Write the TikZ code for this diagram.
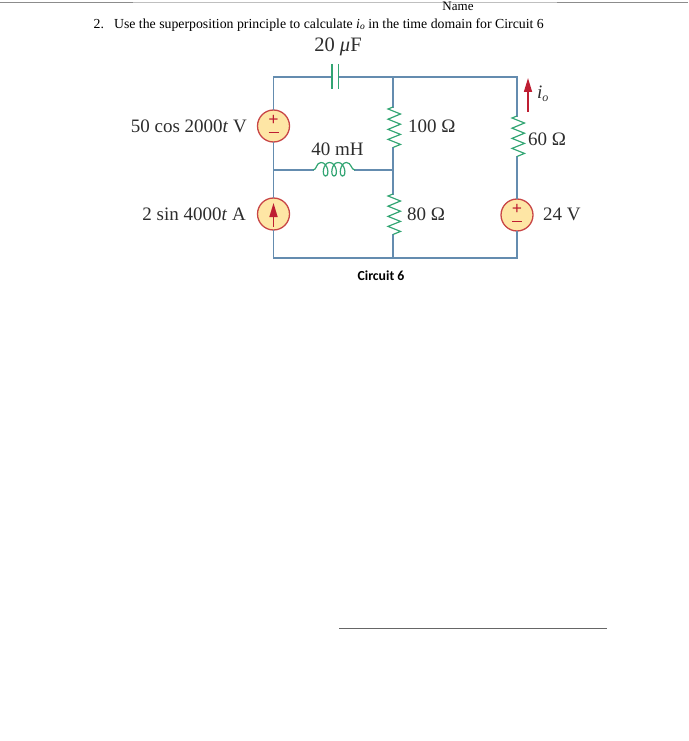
\documentclass[tikz,border=0pt]{standalone}
\usepackage{fontspec}
\setmainfont{Liberation Serif}
\newfontfamily\labelsans{Carlito}
\usetikzlibrary{arrows.meta}
\definecolor{wirecol}{RGB}{100,140,175}
\definecolor{elemcol}{RGB}{50,165,115}
\definecolor{srcfill}{RGB}{254,230,165}
\definecolor{srcline}{RGB}{200,70,70}
\definecolor{arrowred}{RGB}{190,30,50}
\definecolor{inkcol}{RGB}{45,45,45}
\tikzset{
 wire/.style={draw=wirecol,line width=1.5pt,line cap=rect},
 resistor/.style={draw=elemcol,line width=1.2pt,line join=miter},
 inductor/.style={draw=elemcol,line width=1.2pt},
 capplate/.style={draw=elemcol,line width=1.3pt},
 source/.style={circle,draw=srcline,fill=srcfill,line width=1.3pt,minimum size=32,inner sep=0},
 sign/.style={inner sep=0,text=arrowred,font=\bfseries\fontsize{18}{18}\selectfont},
 redarrow/.style={draw=arrowred,line width=1.6pt,-{Triangle[length=14pt,width=8pt]}},
 val/.style={inner sep=0,text=inkcol,font=\fontsize{19}{21}\selectfont},
 txt/.style={inner sep=0,text=black,font=\fontsize{13.8}{15}\selectfont},
}
\newcommand{\zigzagres}[2]{\draw[resistor] (#1) -- ++(-5,2) -- ++(12.5,5) -- ++(-12.5,5.2) -- ++(12.5,5) -- ++(-12.5,5.2) -- ++(12.5,5) -- ++(-12.5,5) -- ++(12.5,5) -- (#2);}
\begin{document}
\begin{tikzpicture}[x=1pt,y=-1pt]
\useasboundingbox (0,0) rectangle (688,741);
% top strip of the page
\coordinate (barA) at (0,2.5); \coordinate (barB) at (133,2.5);
\coordinate (barC) at (557,2.5); \coordinate (barD) at (688,2.5);
\draw[draw=black!25,line width=0.8pt] (barB) -- (barC);
\draw[draw=black!45,line width=1.4pt] (barA) -- (barB);
\draw[draw=black!45,line width=1.4pt] (barC) -- (barD);
% corners
\coordinate (tl) at (273.5,77); \coordinate (tm) at (393,77); \coordinate (tr) at (517,77);
\coordinate (ml) at (273.5,170); \coordinate (mm) at (393,170);
\coordinate (bl) at (273.5,258); \coordinate (bm) at (393,258); \coordinate (br) at (517,258);
% element ends
\coordinate (c1) at (332,77); \coordinate (c2) at (338.5,77);
\coordinate (l1) at (313,170); \coordinate (l2) at (355,170);
\coordinate (ra1) at (393,107); \coordinate (ra2) at (393,147.5);
\coordinate (rb1) at (393,194); \coordinate (rb2) at (393,234.5);
\coordinate (rc1) at (517,116); \coordinate (rc2) at (517,156.5);
% sources
\node[source] (vs) at (273.5,126) {};
\node[source] (is) at (273.5,214) {};
\node[source] (dc) at (517,215) {};
% wires
\draw[wire] (vs.north) -- (tl) -- (c1);
\draw[wire] (c2) -- (tm) -- (tr) -- (rc1);
\draw[wire] (tm) -- (ra1);
\draw[wire] (ra2) -- (mm) -- (rb1);
\draw[wire] (rb2) -- (bm);
\draw[wire] (vs.south) -- (ml) -- (is.north);
\draw[wire] (ml) -- (l1);
\draw[wire] (l2) -- (mm);
\draw[wire] (is.south) -- (bl) -- (bm) -- (br) -- (dc.south);
\draw[wire] (rc2) -- (dc.north);
% elements
\zigzagres{ra1}{ra2}
\zigzagres{rb1}{rb2}
\zigzagres{rc1}{rc2}
\draw[inductor] (l1) .. controls (317,170) and (316,162.5) .. (321,162.5)
  .. controls (328,162.5) and (330,176) .. (325.5,176)
  .. controls (321.5,176) and (323,162.5) .. (329.5,162.5)
  .. controls (336.5,162.5) and (338.5,176) .. (334,176)
  .. controls (330,176) and (331.5,162.5) .. (338,162.5)
  .. controls (345,162.5) and (347,176) .. (342.5,176)
  .. controls (338.5,176) and (340,162.5) .. (346.5,162.5)
  .. controls (351.5,162.5) and (351,170) .. (l2);
\draw[capplate] (332,64) -- (332,89);
\draw[capplate] (338.5,64) -- (338.5,89);
% source marks
\node[sign] (vp) at (273.5,120.5) {+};
\node[sign] (vm) at (273.5,132.5) {\rule{10pt}{1.4pt}};
\node[sign] (dp) at (517,209.5) {+};
\node[sign] (dm) at (517,221.5) {\rule{10pt}{1.4pt}};
\coordinate (isa) at (273.5,227); \coordinate (isb) at (273.5,203);
\draw[redarrow] (isa) -- (isb);
\coordinate (ioa) at (528,112); \coordinate (iob) at (528,78);
\draw[redarrow] (ioa) -- (iob);
% labels
\node[inner sep=0,text=black,font=\fontsize{13}{14}\selectfont] (name) at (458,6) {Name};
\node[txt,anchor=west] (q) at (93.5,25) {2.\hspace{10pt}Use the superposition principle to calculate \textit{i}\raisebox{-1.5pt}{\fontsize{9.5}{10}\selectfont\textit{o}} in the time domain for Circuit 6};
\node[val,font=\fontsize{20.5}{22}\selectfont] (lc) at (338,47) {20 \textit{μ}F};
\node[val,anchor=east] (lv) at (247,126) {50 cos 2000\textit{t} V};
\node[val,anchor=east] (li) at (246,214) {2 sin 4000\textit{t} A};
\node[val] (ll) at (337.5,149) {40 mH};
\node[val,anchor=west] (lra) at (408,126) {100 Ω};
\node[val,anchor=west] (lrb) at (407,214) {80 Ω};
\node[val,anchor=west] (lrc) at (528,139) {60 Ω};
\node[val,anchor=west] (ldc) at (543,214) {24 V};
\node[val,anchor=west] (lio) at (537,94) {\textit{i}\raisebox{-2.5pt}{\fontsize{12}{13}\selectfont\textit{o}}};
\node[inner sep=0,font=\labelsans\bfseries\fontsize{13.8}{15}\selectfont] (cap) at (381,276) {Circuit 6};
% answer line
\coordinate (ansA) at (339,628); \coordinate (ansB) at (607,628);
\draw[draw=black!60,line width=0.8pt] (ansA) -- (ansB);
\end{tikzpicture}
\end{document}
